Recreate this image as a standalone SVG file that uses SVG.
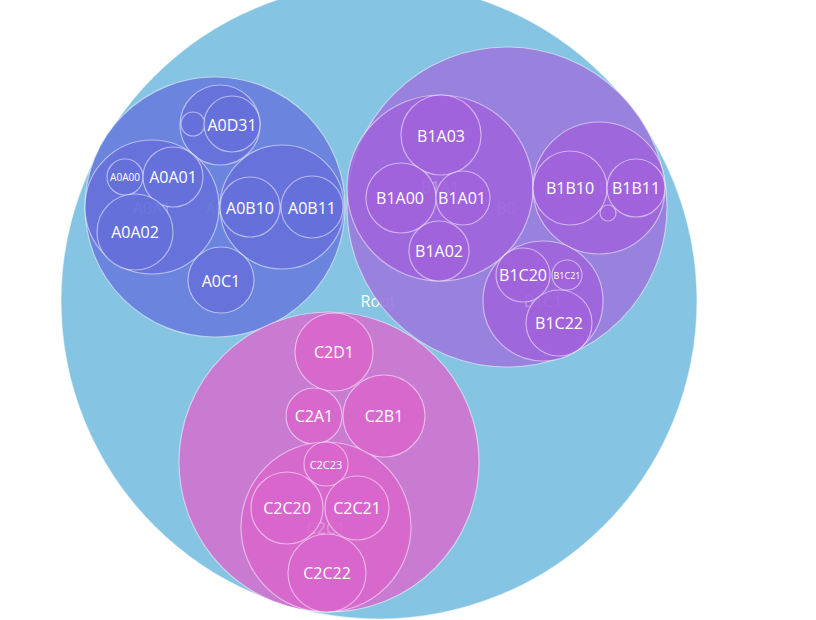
<svg xmlns="http://www.w3.org/2000/svg" width="816" height="620" viewBox="0 0 816 620">
<style>
circle{stroke:#fff;stroke-opacity:.5;stroke-width:1.2}
text{font-family:"Open Sans","Noto Sans",sans-serif;font-size:16px;fill:#fff;text-anchor:middle;dominant-baseline:central}
.p{fill-opacity:.3}
.s{font-size:10px}
.a1{fill:#6B84DD}.a2{fill:#6670DB;fill-opacity:.85}
.b1{fill:#9B7BDD;fill-opacity:.92}.b2{fill:#A063DC;fill-opacity:.85}
.c1{fill:#C97BD2}.c2{fill:#D966CC;fill-opacity:.85}
</style>
<rect width="816" height="620" fill="#fff"/>
<g id="Root"><circle cx="379" cy="301" r="318" fill="#85C4E3" stroke="none"/><text x="378" y="301">Root</text></g>
<g id="A0"><circle class="a1" cx="215" cy="207" r="130"/><text class="p" x="215" y="208">A0</text>
<g id="A0D3"><circle class="a2" cx="220" cy="125" r="40"/><text class="p" x="220" y="125">A0D3</text>
<circle class="a2" cx="193" cy="124" r="12"/>
<g id="A0D31"><circle class="a2" cx="232" cy="124" r="28"/><text x="232" y="125">A0D31</text></g></g>
<g id="A0A1"><circle class="a2" cx="152" cy="207" r="67"/><text class="p" x="152" y="208">A0A1</text>
<g id="A0A00"><circle class="a2" cx="125" cy="177" r="18"/><text class="s" x="125" y="177">A0A00</text></g>
<g id="A0A01"><circle class="a2" cx="173" cy="177" r="30"/><text x="173" y="177">A0A01</text></g>
<g id="A0A02"><circle class="a2" cx="135" cy="232" r="38"/><text x="135" y="232">A0A02</text></g></g>
<g id="A0B1"><circle class="a2" cx="282" cy="207" r="62"/><text class="p" x="282" y="208">A0B1</text>
<g id="A0B10"><circle class="a2" cx="250" cy="207" r="30"/><text x="250" y="208">A0B10</text></g>
<g id="A0B11"><circle class="a2" cx="312" cy="207" r="31"/><text x="312" y="208">A0B11</text></g></g>
<g id="A0C1"><circle class="a2" cx="221" cy="280" r="33"/><text x="221" y="281">A0C1</text></g></g>
<g id="B0"><circle class="b1" cx="507" cy="207" r="160"/><text class="p" x="506" y="208">B0</text>
<g id="B1A1"><circle class="b2" cx="440" cy="188" r="93"/><text class="p" x="440" y="187">B1A1</text>
<g id="B1A03"><circle class="b2" cx="441" cy="135" r="40"/><text x="441" y="136">B1A03</text></g>
<g id="B1A00"><circle class="b2" cx="401" cy="198" r="35"/><text x="400" y="198">B1A00</text></g>
<g id="B1A01"><circle class="b2" cx="463" cy="198" r="27"/><text x="462" y="198">B1A01</text></g>
<g id="B1A02"><circle class="b2" cx="439" cy="251" r="30"/><text x="439" y="251">B1A02</text></g></g>
<g id="B1B1"><circle class="b2" cx="599" cy="188" r="66"/><text class="p" x="599" y="188">B1B1</text>
<g id="B1B10"><circle class="b2" cx="570" cy="188" r="37"/><text x="570" y="188">B1B10</text></g>
<g id="B1B11"><circle class="b2" cx="636" cy="188" r="29"/><text x="636" y="188">B1B11</text></g>
<circle class="b2" cx="608" cy="213" r="8"/></g>
<g id="B1C1"><circle class="b2" cx="543" cy="301" r="60"/><text class="p" x="543" y="301">B1C1</text>
<g id="B1C20"><circle class="b2" cx="523" cy="275" r="27"/><text x="523" y="275">B1C20</text></g>
<g id="B1C21"><circle class="b2" cx="567" cy="275" r="15"/><text style="font-size:9px" x="567" y="275">B1C21</text></g>
<g id="B1C22"><circle class="b2" cx="559" cy="323" r="33"/><text x="559" y="323">B1C22</text></g></g></g>
<g id="C2"><circle class="c1" cx="329" cy="462" r="150"/>
<g id="C2D1"><circle class="c2" cx="334" cy="352" r="39"/><text x="334" y="352">C2D1</text></g>
<g id="C2A1"><circle class="c2" cx="314" cy="416" r="28"/><text x="314" y="416">C2A1</text></g>
<g id="C2B1"><circle class="c2" cx="384" cy="416" r="41"/><text x="384" y="416">C2B1</text></g>
<g id="C2C1"><circle class="c2" cx="326" cy="527" r="85"/><text class="p" x="326" y="528">C2C1</text>
<g id="C2C23"><circle class="c2" cx="326" cy="464" r="22"/><text style="font-size:11px" x="326" y="464">C2C23</text></g>
<g id="C2C20"><circle class="c2" cx="287" cy="508" r="36"/><text x="287" y="508">C2C20</text></g>
<g id="C2C21"><circle class="c2" cx="357" cy="508" r="32"/><text x="357" y="508">C2C21</text></g>
<g id="C2C22"><circle class="c2" cx="327" cy="573" r="39"/><text x="327" y="573">C2C22</text></g></g></g>
<g id="connectors"/>
</svg>
